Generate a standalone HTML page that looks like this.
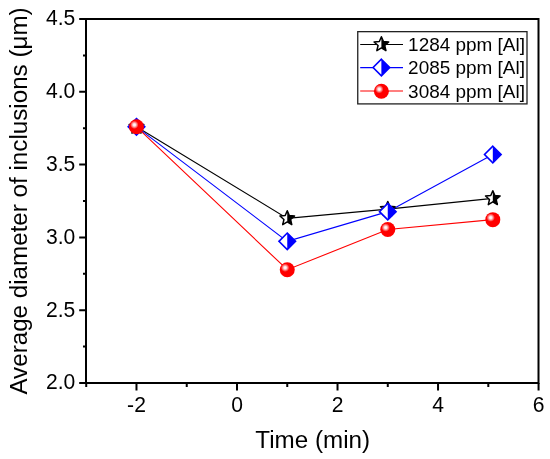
<!DOCTYPE html><html><head><meta charset="utf-8"><style>html,body{margin:0;padding:0;background:#fff;overflow:hidden}svg{display:block}text{font-family:"Liberation Sans",Arial,sans-serif;fill:#000}</style></head><body>
<svg width="550" height="459" viewBox="0 0 550 459">
<defs><radialGradient id="hl"><stop offset="0" stop-color="#fff" stop-opacity="1"/><stop offset="0.3" stop-color="#fff" stop-opacity="0.9"/><stop offset="0.65" stop-color="#fff" stop-opacity="0.45"/><stop offset="1" stop-color="#fff" stop-opacity="0"/></radialGradient></defs>
<rect width="550" height="459" fill="#fff"/>
<polyline points="136.48,126.82 287.26,218.4 387.78,209.15 492.82,198.38" fill="none" stroke="#000" stroke-width="1.1"/>
<polyline points="136.48,126.82 287.26,241.33 387.78,211.63 492.82,154.55" fill="none" stroke="#00f" stroke-width="1.1"/>
<polyline points="136.48,126.82 287.26,269.72 387.78,229.54 492.82,219.64" fill="none" stroke="#f00" stroke-width="1.1"/>
<clipPath id="sc0"><rect x="136.48" y="116.12" width="10.7" height="21.4"/></clipPath><polygon points="136.48,119.12 138.54,123.99 143.8,124.44 139.81,127.9 141.01,133.05 136.48,130.32 131.95,133.05 133.15,127.9 129.16,124.44 134.42,123.99" fill="#fff"/><polygon points="136.48,119.12 138.54,123.99 143.8,124.44 139.81,127.9 141.01,133.05 136.48,130.32 131.95,133.05 133.15,127.9 129.16,124.44 134.42,123.99" fill="#000" clip-path="url(#sc0)"/><polygon points="136.48,119.12 138.54,123.99 143.8,124.44 139.81,127.9 141.01,133.05 136.48,130.32 131.95,133.05 133.15,127.9 129.16,124.44 134.42,123.99" fill="none" stroke="#000" stroke-width="1.5" stroke-linejoin="round"/>
<clipPath id="sc1"><rect x="287.26" y="207.7" width="10.7" height="21.4"/></clipPath><polygon points="287.26,210.7 289.32,215.57 294.58,216.02 290.59,219.48 291.79,224.63 287.26,221.9 282.73,224.63 283.93,219.48 279.94,216.02 285.2,215.57" fill="#fff"/><polygon points="287.26,210.7 289.32,215.57 294.58,216.02 290.59,219.48 291.79,224.63 287.26,221.9 282.73,224.63 283.93,219.48 279.94,216.02 285.2,215.57" fill="#000" clip-path="url(#sc1)"/><polygon points="287.26,210.7 289.32,215.57 294.58,216.02 290.59,219.48 291.79,224.63 287.26,221.9 282.73,224.63 283.93,219.48 279.94,216.02 285.2,215.57" fill="none" stroke="#000" stroke-width="1.5" stroke-linejoin="round"/>
<clipPath id="sc2"><rect x="387.78" y="198.45" width="10.7" height="21.4"/></clipPath><polygon points="387.78,201.45 389.84,206.32 395.1,206.77 391.11,210.24 392.31,215.38 387.78,212.65 383.25,215.38 384.45,210.24 380.46,206.77 385.72,206.32" fill="#fff"/><polygon points="387.78,201.45 389.84,206.32 395.1,206.77 391.11,210.24 392.31,215.38 387.78,212.65 383.25,215.38 384.45,210.24 380.46,206.77 385.72,206.32" fill="#000" clip-path="url(#sc2)"/><polygon points="387.78,201.45 389.84,206.32 395.1,206.77 391.11,210.24 392.31,215.38 387.78,212.65 383.25,215.38 384.45,210.24 380.46,206.77 385.72,206.32" fill="none" stroke="#000" stroke-width="1.5" stroke-linejoin="round"/>
<clipPath id="sc3"><rect x="492.82" y="187.68" width="10.7" height="21.4"/></clipPath><polygon points="492.82,190.68 494.88,195.55 500.15,196 496.15,199.46 497.35,204.61 492.82,201.88 488.3,204.61 489.49,199.46 485.5,196 490.77,195.55" fill="#fff"/><polygon points="492.82,190.68 494.88,195.55 500.15,196 496.15,199.46 497.35,204.61 492.82,201.88 488.3,204.61 489.49,199.46 485.5,196 490.77,195.55" fill="#000" clip-path="url(#sc3)"/><polygon points="492.82,190.68 494.88,195.55 500.15,196 496.15,199.46 497.35,204.61 492.82,201.88 488.3,204.61 489.49,199.46 485.5,196 490.77,195.55" fill="none" stroke="#000" stroke-width="1.5" stroke-linejoin="round"/>
<polygon points="136.48,118.52 144.78,126.82 136.48,135.12 128.18,126.82" fill="#fff"/><polygon points="136.48,118.52 144.78,126.82 136.48,135.12" fill="#00f"/><polygon points="136.48,118.52 144.78,126.82 136.48,135.12 128.18,126.82" fill="none" stroke="#00f" stroke-width="1.6"/>
<polygon points="287.26,233.03 295.56,241.33 287.26,249.63 278.96,241.33" fill="#fff"/><polygon points="287.26,233.03 295.56,241.33 287.26,249.63" fill="#00f"/><polygon points="287.26,233.03 295.56,241.33 287.26,249.63 278.96,241.33" fill="none" stroke="#00f" stroke-width="1.6"/>
<polygon points="387.78,203.33 396.08,211.63 387.78,219.93 379.48,211.63" fill="#fff"/><polygon points="387.78,203.33 396.08,211.63 387.78,219.93" fill="#00f"/><polygon points="387.78,203.33 396.08,211.63 387.78,219.93 379.48,211.63" fill="none" stroke="#00f" stroke-width="1.6"/>
<polygon points="492.82,146.25 501.12,154.55 492.82,162.85 484.52,154.55" fill="#fff"/><polygon points="492.82,146.25 501.12,154.55 492.82,162.85" fill="#00f"/><polygon points="492.82,146.25 501.12,154.55 492.82,162.85 484.52,154.55" fill="none" stroke="#00f" stroke-width="1.6"/>
<circle cx="136.48" cy="126.82" r="7.5" fill="#f00"/><circle cx="134.38" cy="124.82" r="4.2" fill="url(#hl)"/>
<circle cx="287.26" cy="269.72" r="7.5" fill="#f00"/><circle cx="285.16" cy="267.72" r="4.2" fill="url(#hl)"/>
<circle cx="387.78" cy="229.54" r="7.5" fill="#f00"/><circle cx="385.68" cy="227.54" r="4.2" fill="url(#hl)"/>
<circle cx="492.82" cy="219.64" r="7.5" fill="#f00"/><circle cx="490.72" cy="217.64" r="4.2" fill="url(#hl)"/>
<rect x="86.0" y="19.0" width="452.5" height="364.0" fill="none" stroke="#000" stroke-width="2.0"/>
<path d="M86.22,383.0v4.0M136.48,383.0v7.5M186.74,383.0v4.0M237,383.0v7.5M287.26,383.0v4.0M337.52,383.0v7.5M387.78,383.0v4.0M438.04,383.0v7.5M488.3,383.0v4.0M538.56,383.0v7.5M86.0,383h-6.8M86.0,346.6h-3.0M86.0,310.2h-6.8M86.0,273.8h-3.0M86.0,237.4h-6.8M86.0,201h-3.0M86.0,164.6h-6.8M86.0,128.2h-3.0M86.0,91.8h-6.8M86.0,55.4h-3.0M86.0,19h-6.8" stroke="#000" stroke-width="2.0" fill="none"/>
<text transform="translate(136.48,411.8) scale(1,1.04)" font-size="21.1" text-anchor="middle">-2</text>
<text transform="translate(237,411.8) scale(1,1.04)" font-size="21.1" text-anchor="middle">0</text>
<text transform="translate(337.52,411.8) scale(1,1.04)" font-size="21.1" text-anchor="middle">2</text>
<text transform="translate(438.04,411.8) scale(1,1.04)" font-size="21.1" text-anchor="middle">4</text>
<text transform="translate(538.56,411.8) scale(1,1.04)" font-size="21.1" text-anchor="middle">6</text>
<text transform="translate(75.3,389.3) scale(1,1.04)" font-size="21.1" text-anchor="end">2.0</text>
<text transform="translate(75.3,316.5) scale(1,1.04)" font-size="21.1" text-anchor="end">2.5</text>
<text transform="translate(75.3,243.7) scale(1,1.04)" font-size="21.1" text-anchor="end">3.0</text>
<text transform="translate(75.3,170.9) scale(1,1.04)" font-size="21.1" text-anchor="end">3.5</text>
<text transform="translate(75.3,98.1) scale(1,1.04)" font-size="21.1" text-anchor="end">4.0</text>
<text transform="translate(75.3,25.3) scale(1,1.04)" font-size="21.1" text-anchor="end">4.5</text>
<text x="312.7" y="447.6" font-size="24.2" text-anchor="middle">Time (min)</text>
<text transform="translate(26.5,201.0) rotate(-90)" font-size="24.2" text-anchor="middle">Average diameter of inclusions (μm)</text>
<rect x="357.75" y="31.65" width="169.25" height="72.25" fill="#fff" stroke="#222" stroke-width="1.3"/>
<line x1="360.2" y1="44.5" x2="403.0" y2="44.5" stroke="#000" stroke-width="1.1"/>
<clipPath id="sc9"><rect x="381.4" y="33.7" width="10.7" height="21.4"/></clipPath><polygon points="381.4,36.7 383.46,41.57 388.72,42.02 384.73,45.48 385.93,50.63 381.4,47.9 376.87,50.63 378.07,45.48 374.08,42.02 379.34,41.57" fill="#fff"/><polygon points="381.4,36.7 383.46,41.57 388.72,42.02 384.73,45.48 385.93,50.63 381.4,47.9 376.87,50.63 378.07,45.48 374.08,42.02 379.34,41.57" fill="#000" clip-path="url(#sc9)"/><polygon points="381.4,36.7 383.46,41.57 388.72,42.02 384.73,45.48 385.93,50.63 381.4,47.9 376.87,50.63 378.07,45.48 374.08,42.02 379.34,41.57" fill="none" stroke="#000" stroke-width="1.5" stroke-linejoin="round"/>
<text transform="translate(408.1,50.8) scale(1.024,1.0)" font-size="18.5">1284 ppm [Al]</text>
<line x1="360.2" y1="67.6" x2="403.0" y2="67.6" stroke="#00f" stroke-width="1.1"/>
<polygon points="381.4,59.2 389.7,67.5 381.4,75.8 373.1,67.5" fill="#fff"/><polygon points="381.4,59.2 389.7,67.5 381.4,75.8" fill="#00f"/><polygon points="381.4,59.2 389.7,67.5 381.4,75.8 373.1,67.5" fill="none" stroke="#00f" stroke-width="1.6"/>
<text transform="translate(408.1,74.2) scale(1.024,1.0)" font-size="18.5">2085 ppm [Al]</text>
<line x1="360.2" y1="91.0" x2="403.0" y2="91.0" stroke="#f00" stroke-width="1.1"/>
<circle cx="381.4" cy="91.2" r="7.5" fill="#f00"/><circle cx="379.3" cy="89.2" r="4.2" fill="url(#hl)"/>
<text transform="translate(408.1,97.7) scale(1.024,1.0)" font-size="18.5">3084 ppm [Al]</text>
</svg></body></html>
